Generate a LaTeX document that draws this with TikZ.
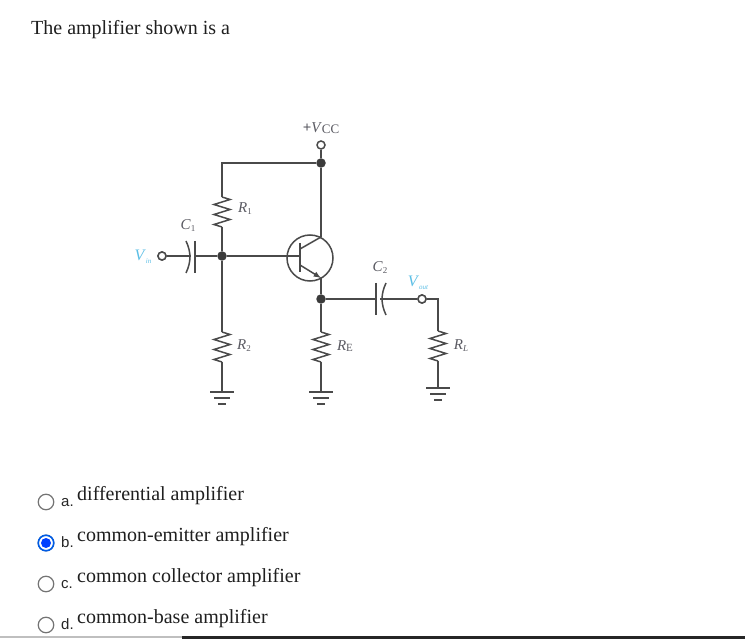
\documentclass[tikz,border=0pt]{standalone}
\usepackage{fontspec}
\setmainfont{Liberation Serif}
\newfontfamily\labelfont{Liberation Sans}
\usetikzlibrary{decorations.pathmorphing}
\definecolor{wireGray}{HTML}{4A4A4A}
\definecolor{voltBlue}{HTML}{5CBFE6}
\definecolor{partGray}{HTML}{5A5A62}
\tikzstyle{amplifier}=[%
	wire/.style = {%
		draw=wireGray,
		line width=1.5pt
	},%
	myResistor/.style={%
		wire,
		decorate,
		decoration={zigzag, segment length=10pt, amplitude=8pt}
	},
	myDot/.style={%
		circle,
		fill=wireGray!80!black,
		draw=none,
		inner sep=0pt,
		minimum size=9.5pt
	},
	myTerminal/.style={%
		circle,
		fill=white,
		draw=wireGray,
		line width=1.5pt,
		inner sep=0pt,
		minimum size=8pt
	},
	myGround/.style={%
		wire,
		line width=2pt
	},
	partLabel/.style={%
		text=partGray,
		inner sep=0pt,
		font=\fontsize{15}{15}\selectfont
	},
	voltLabel/.style={%
		text=voltBlue,
		inner sep=0pt,
		font=\fontsize{16}{16}\selectfont
	},
	answerText/.style={%
		anchor=base west,
		inner sep=0pt,
		text=black!88,
		font=\fontsize{20}{20}\selectfont
	},
	answerLetter/.style={%
		anchor=base west,
		inner sep=0pt,
		text=black!85,
		font=\labelfont\fontsize{15}{15}\selectfont
	},
	myRadio/.style={%
		circle,
		draw=black!55,
		fill=white,
		line width=1.2pt,
		inner sep=0pt,
		minimum size=15.5pt
	}
]

\begin{document}
\begin{tikzpicture}[
	x=1pt,
	y=-1pt,
	amplifier
]
	\useasboundingbox (0,0) rectangle (745,639);
	\fill [white] (0,0) rectangle (745,639);

	\node [answerText] (question) at (31,35) {The amplifier shown is a};

	% junctions and terminals
	\node [myTerminal] (vcc) at (321,145) {};
	\node [myDot] (topDot) at (321,163) {};
	\coordinate (topCorner) at (222,163);
	\node [myDot] (baseDot) at (222,256) {};
	\node [myTerminal] (vin) at (162,256) {};
	\node [myDot] (emitterDot) at (321,299) {};
	\node [myTerminal] (vout) at (422,299) {};
	\coordinate (outCorner) at (438,299);

	% resistors
	\coordinate (r1Top) at (222,197);
	\coordinate (r1Bottom) at (222,227);
	\coordinate (r2Top) at (222,332);
	\coordinate (r2Bottom) at (222,362);
	\coordinate (reTop) at (321,332);
	\coordinate (reBottom) at (321,362);
	\coordinate (rlTop) at (438,331);
	\coordinate (rlBottom) at (438,361);
	\draw [myResistor] (r1Top) -- (r1Bottom);
	\draw [myResistor] (r2Top) -- (r2Bottom);
	\draw [myResistor] (reTop) -- (reBottom);
	\draw [myResistor] (rlTop) -- (rlBottom);

	% transistor
	\node [circle, wire, inner sep=0pt, minimum size=46pt] (transistor) at (310,258) {};
	\coordinate (baseBar) at (300,256);
	\coordinate (barTop) at (300,243);
	\coordinate (barBottom) at (300,272);
	\coordinate (collectorIn) at (300,249);
	\coordinate (collector) at (321,237);
	\coordinate (emitterIn) at (300,265);
	\coordinate (emitter) at (321,278);
	\draw [wire, line width=2.2pt] (barTop) -- (barBottom);
	\draw [wire] (collectorIn) -- (collector);
	\draw [wire, -latex] (emitterIn) -- (emitter);

	% capacitors
	\coordinate (c1Left) at (191,256);
	\coordinate (c1Right) at (195,256);
	\coordinate (c2Left) at (376,299);
	\coordinate (c2Right) at (380,299);
	\draw [wire] (195,241) -- (195,273);
	\draw [wire] (186,241) to [bend left=25] (186,273);
	\draw [wire] (376,283) -- (376,315);
	\draw [wire] (386,283) to [bend right=25] (386,315);

	% wires
	\draw [wire] (vcc) -- (topDot) -- (topCorner) -- (r1Top);
	\draw [wire] (r1Bottom) -- (baseDot) -- (r2Top);
	\draw [wire] (vin) -- (c1Left);
	\draw [wire] (c1Right) -- (baseDot) -- (baseBar);
	\draw [wire] (topDot) -- (collector);
	\draw [wire] (emitter) -- (emitterDot) -- (reTop);
	\draw [wire] (emitterDot) -- (c2Left);
	\draw [wire] (c2Right) -- (vout) -- (outCorner) -- (rlTop);
	\node [myTerminal] at (vout) {};
	\node [myTerminal] at (vin) {};

	% grounds
	\foreach \x/\y/\name in {222/392/r2Bottom, 321/392/reBottom, 438/388/rlBottom} {
		\draw [wire] (\name) -- (\x,\y);
		\draw [myGround] (\x-12,\y) -- (\x+12,\y);
		\draw [myGround] (\x-8,\y+6) -- (\x+8,\y+6);
		\draw [myGround] (\x-4,\y+12) -- (\x+4,\y+12);
	}

	% labels
	\node [partLabel] (vccLabel) at (321,128) {\textbf{+}\textit{V}\raisebox{-1pt}{\fontsize{13}{13}\selectfont CC}};
	\node [voltLabel] (vinLabel) at (143,257) {\textit{V}\raisebox{-3pt}{\fontsize{7}{7}\selectfont\textit{in}}};
	\node [voltLabel] (voutLabel) at (418,283) {\textit{V}\raisebox{-3pt}{\fontsize{7}{7}\selectfont\textit{out}}};
	\node [partLabel] (c1Label) at (188,226) {\textit{C}\raisebox{-2pt}{\fontsize{9}{9}\selectfont 1}};
	\node [partLabel] (c2Label) at (380,268) {\textit{C}\raisebox{-2pt}{\fontsize{9}{9}\selectfont 2}};
	\node [partLabel] (r1Label) at (245,209) {\textit{R}\raisebox{-2pt}{\fontsize{9}{9}\selectfont 1}};
	\node [partLabel] (r2Label) at (244,346) {\textit{R}\raisebox{-2pt}{\fontsize{9}{9}\selectfont 2}};
	\node [partLabel] (reLabel) at (345,346) {\textit{R}\raisebox{-1pt}{\fontsize{11}{11}\selectfont E}};
	\node [partLabel] (rlLabel) at (461,346) {\textit{R}\raisebox{-2pt}{\fontsize{9}{9}\selectfont\textit{L}}};

	% answers
	\foreach \y/\letter/\answer in {500/a/differential amplifier, 541/b/common-emitter amplifier, 582/c/common collector amplifier, 623/d/common-base amplifier} {
		\node [myRadio] (radio\letter) at (46,\y+2) {};
		\node [answerLetter] (letter\letter) at (61,\y+6) {\letter.};
		\node [answerText] (answer\letter) at (77,\y) {\answer};
	}
	\node [circle, fill=white, draw=blue!60!cyan!90!black, line width=1.6pt, inner sep=0pt, minimum size=15.5pt] (radioOn) at (radiob) {};
	\node [myDot, fill=blue!75!cyan, minimum size=10pt] (radioDot) at (radiob) {};

	% page edge
	\fill [black!25] (0,636) rectangle (182,637.5);
	\fill [black!85] (182,636) rectangle (745,639);
\end{tikzpicture}
\end{document}
